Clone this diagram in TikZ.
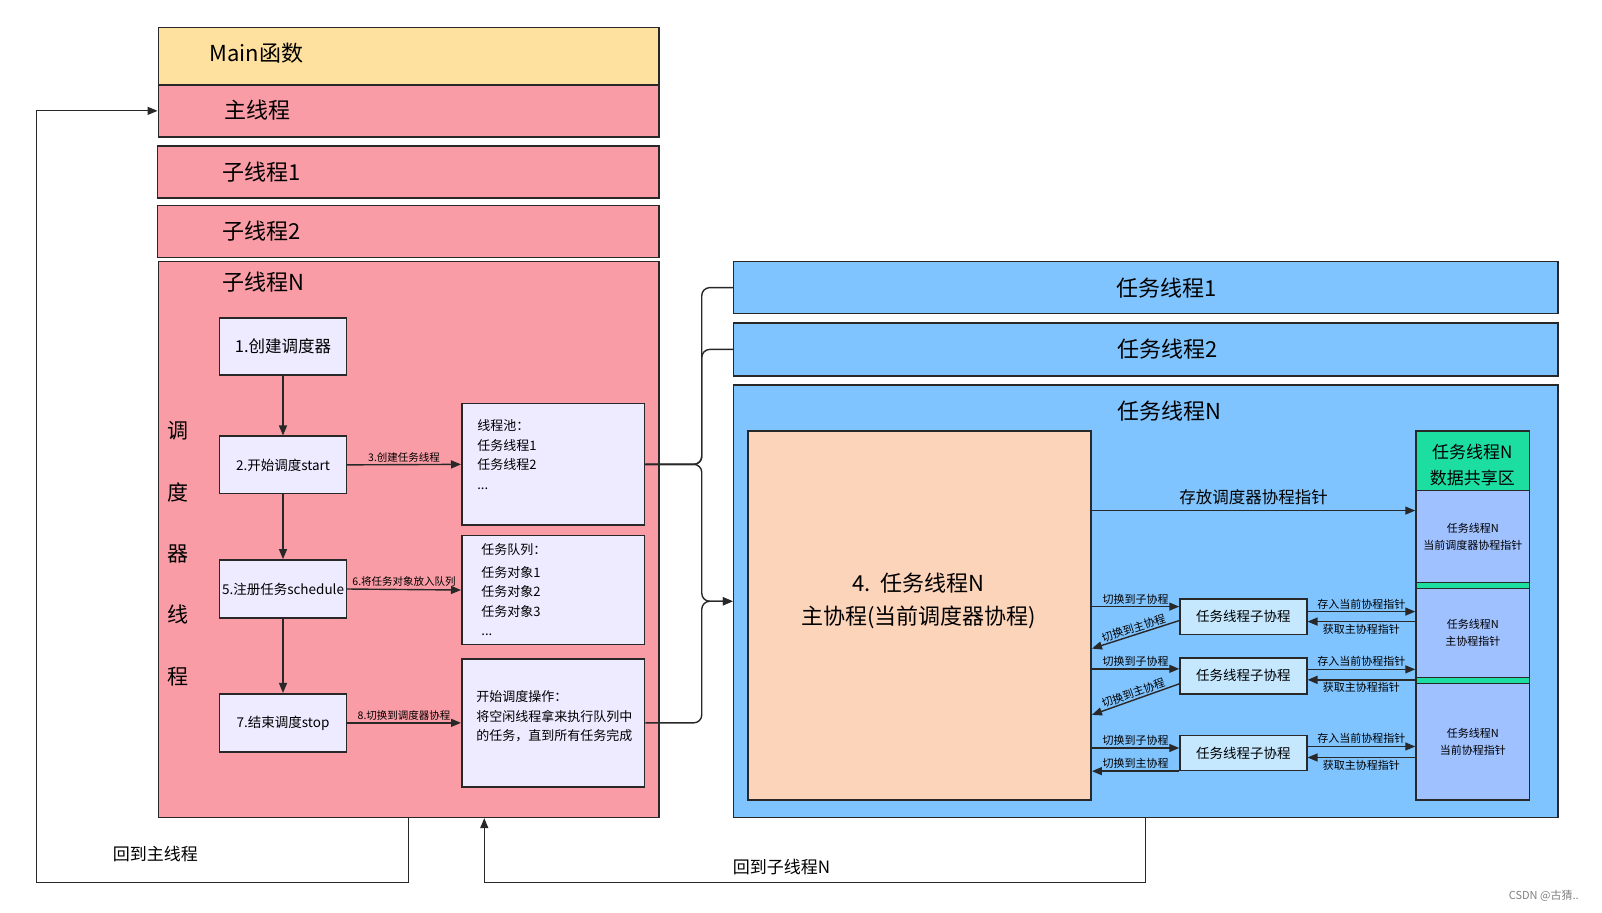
\documentclass[tikz,border=0pt]{standalone}
\usepackage{fontspec}
\setmainfont{Noto Sans CJK SC}
\usepackage{tikz}
\usetikzlibrary{fit}
\usetikzlibrary{arrows.meta}
\usepackage{xcolor}
\definecolor{ColMain}{RGB}{254,224,159}
\definecolor{ColThread}{RGB}{249,156,165}
\definecolor{ColStep}{RGB}{238,234,255}
\definecolor{ColTask}{RGB}{128,196,255}
\definecolor{ColCo}{RGB}{252,212,186}
\definecolor{ColShare}{RGB}{27,222,160}
\definecolor{ColCell}{RGB}{160,193,255}
\definecolor{ColSub}{RGB}{197,232,255}
\definecolor{ColLine}{RGB}{40,40,40}
\tikzstyle{BoxBase}=[draw=ColLine,line width=1.6pt,inner sep=0pt]
\tikzstyle{BoxMain}=[BoxBase,fill=ColMain]
\tikzstyle{BoxThread}=[BoxBase,fill=ColThread]
\tikzstyle{BoxStep}=[BoxBase,fill=ColStep]
\tikzstyle{BoxTask}=[BoxBase,fill=ColTask]
\tikzstyle{BoxCo}=[BoxBase,fill=ColCo]
\tikzstyle{BoxShare}=[BoxBase,fill=ColShare]
\tikzstyle{BoxCell}=[BoxBase,fill=ColCell]
\tikzstyle{BoxSub}=[BoxBase,fill=ColSub]
\tikzstyle{TextBig}=[inner sep=1pt,font=\fontsize{22}{26}\selectfont]
\tikzstyle{TextMid}=[inner sep=2pt,font=\fontsize{16.5}{20}\selectfont]
\tikzstyle{TextStep}=[inner sep=1pt,font=\fontsize{13.5}{19.5}\selectfont]
\tikzstyle{TextSmall}=[inner sep=2pt,font=\fontsize{11}{17}\selectfont]
\tikzstyle{TextTiny}=[inner sep=2pt,font=\fontsize{10.5}{13}\selectfont]
\tikzstyle{Link}=[draw=ColLine,line width=1.4pt]
\tikzstyle{LinkArrow}=[Link,-{Triangle[length=10pt,width=8pt]}]
\tikzstyle{LinkBack}=[Link,{Triangle[length=10pt,width=8pt]}-]

\begin{document}
\begin{tikzpicture}[x=1.0217pt,y=-1.0217pt]
    \useasboundingbox (0,0) rectangle (1568,893);
    % threads of the process
    \node[BoxMain,fit={(155,27) (645,83)}](mainF){};
    \node[BoxThread,fit={(155,83) (645,134)}](mainT){};
    \node[BoxThread,fit={(154,143) (645,194)}](sub1){};
    \node[BoxThread,fit={(154,201) (645,252)}](sub2){};
    \node[BoxThread,fit={(155,256) (645,800)}](subN){};
    \node[TextBig,anchor=west](mainFTxt)at(204,52){Main函数};
    \node[TextBig,anchor=west](mainTTxt)at(219,108){主线程};
    \node[TextBig,anchor=west](sub1Txt)at(217,168){子线程1};
    \node[TextBig,anchor=west](sub2Txt)at(217,226){子线程2};
    \node[TextBig,anchor=west](subNTxt)at(217,276){子线程N};
    \node[TextBig,align=center,font=\fontsize{21}{61.3}\selectfont](schedTxt)at(174,542){调\\度\\器\\线\\程};
    % scheduler steps
    \node[BoxStep,fit={(215,311) (339,367)},label={[inner sep=0pt,font=\fontsize{16.5}{20}\selectfont]center:{1.创建调度器}}](s1){};
    \node[BoxStep,fit={(215,427) (339,483)},label={[TextStep]center:{2.开始调度start}}](s2){};
    \node[BoxStep,fit={(215,548) (339,605)},label={[TextStep]center:{5.注册任务schedule}}](s5){};
    \node[BoxStep,fit={(215,679) (339,736)},label={[TextStep]center:{7.结束调度stop}}](s7){};
    \node[BoxStep,fit={(452,395) (631,514)}](pool){};
    \node[BoxStep,fit={(452,524) (631,631)}](queue){};
    \node[BoxStep,fit={(452,645) (631,770)}](run){};
    \node[TextStep,anchor=west,align=left,font=\fontsize{13}{19.4}\selectfont](poolTxt)at(466,445){线程池：\\任务线程1\\任务线程2\\...};
    \node[TextStep,anchor=west,align=left,font=\fontsize{13}{19.4}\selectfont](queueTxt)at(470,577){任务队列：\\[4pt]任务对象1\\任务对象2\\任务对象3\\...};
    \node[TextStep,anchor=west,align=left,font=\fontsize{13}{19.8}\selectfont](runTxt)at(465,701){开始调度操作：\\将空闲线程拿来执行队列中\\的任务，直到所有任务完成};
    \draw[LinkArrow](s1)--(s2);
    \draw[LinkArrow](s2)--(s5);
    \draw[LinkArrow](s5)--(s7);
    \draw[LinkArrow](s2.east)--node[TextTiny,above]{3.创建任务线程}(pool.west);
    \draw[LinkArrow](s5.east)--node[TextTiny,above]{6.将任务对象放入队列}(queue.west);
    \draw[LinkArrow](s7.east)--node[TextTiny,above]{8.切换到调度器协程}(run.west);
    % task threads
    \node[BoxTask,fit={(718,256) (1525,307)}](t1){};
    \node[BoxTask,fit={(718,316) (1525,368)}](t2){};
    \node[BoxTask,fit={(718,377) (1525,800)}](taskN){};
    \node[TextBig](t1Txt)at(1142,282){任务线程1};
    \node[TextBig](t2Txt)at(1143,342){任务线程2};
    \node[TextBig](taskNTxt)at(1145,402){任务线程N};
    \node[BoxCo,fit={(732,422) (1068,783)}](co){};
    \node[TextBig,align=center,font=\fontsize{22}{33.7}\selectfont](coTxt)at(899,588){4.\ \ 任务线程N\\主协程(当前调度器协程)};
    \node[BoxShare,fit={(1386,422) (1497,783)}](share){};
    \node[TextMid,align=center,font=\fontsize{17}{25.5}\selectfont](shareTxt)at(1441,455){任务线程N\\数据共享区};
    \node[BoxCell,fit={(1386,480) (1497,570)},label={[TextSmall,align=center]center:{任务线程N\\当前调度器协程指针}}](cell1){};
    \node[BoxCell,fit={(1386,576) (1497,663)},label={[TextSmall,align=center]center:{任务线程N\\主协程指针}}](cell2){};
    \node[BoxCell,fit={(1386,669) (1497,783)},label={[TextSmall,align=center]center:{任务线程N\\当前协程指针}}](cell3){};
    \node[BoxSub,fit={(1155,586) (1279,621)},label={[TextStep]center:{任务线程子协程}}](sb1){};
    \node[BoxSub,fit={(1155,644) (1279,679)},label={[TextStep]center:{任务线程子协程}}](sb2){};
    \node[BoxSub,fit={(1155,720) (1279,754)},label={[TextStep]center:{任务线程子协程}}](sb3){};
    \draw[LinkArrow]([yshift=105pt]co.east)--node[TextMid,above=3pt]{存放调度器协程指针}([yshift=105pt]co.east-|share.west);
    % switching between coroutines
    \draw[LinkArrow]([yshift=10pt]sb1.west-|co.east)--node[TextSmall,above]{切换到子协程}([yshift=10pt]sb1.west);
    \draw[LinkBack]([yshift=-32pt]sb1.west-|co.east)--node[TextSmall,above,sloped,inner sep=1pt]{切换到主协程}([yshift=-4pt]sb1.west);
    \draw[LinkArrow]([yshift=7pt]sb2.west-|co.east)--node[TextSmall,above]{切换到子协程}([yshift=7pt]sb2.west);
    \draw[LinkBack]([yshift=-39pt]sb2.west-|co.east)--node[TextSmall,above,sloped,inner sep=1pt]{切换到主协程}([yshift=-8pt]sb2.west);
    \draw[LinkArrow]([yshift=5pt]sb3.west-|co.east)--node[TextSmall,above]{切换到子协程}([yshift=5pt]sb3.west);
    \draw[LinkBack](sb3.south west-|co.east)--node[TextSmall,above]{切换到主协程}(sb3.south west);
    \draw[LinkArrow]([yshift=5pt]sb1.east)--node[TextSmall,above]{存入当前协程指针}([yshift=5pt]sb1.east-|share.west);
    \draw[LinkBack]([yshift=-5pt]sb1.east)--node[TextSmall,below]{获取主协程指针}([yshift=-5pt]sb1.east-|share.west);
    \draw[LinkArrow]([yshift=6.5pt]sb2.east)--node[TextSmall,above]{存入当前协程指针}([yshift=6.5pt]sb2.east-|share.west);
    \draw[LinkBack]([yshift=-4pt]sb2.east)--node[TextSmall,below]{获取主协程指针}([yshift=-4pt]sb2.east-|share.west);
    \draw[LinkArrow]([yshift=6.5pt]sb3.east)--node[TextSmall,above]{存入当前协程指针}([yshift=6.5pt]sb3.east-|share.west);
    \draw[LinkBack]([yshift=-4.5pt]sb3.east)--node[TextSmall,below]{获取主协程指针}([yshift=-4.5pt]sb3.east-|share.west);
    % from the scheduler to the task threads
    \draw[Link,rounded corners=8pt](pool.east)-|([xshift=-31pt]t1.west)--(t1.west);
    \draw[Link,rounded corners=8pt](pool.east)-|([xshift=-31pt]t2.west)--(t2.west);
    \draw[LinkArrow,rounded corners=8pt](pool.east)-|([xshift=-31pt]taskN.west)--(taskN.west);
    \draw[LinkArrow,rounded corners=8pt](run.east)-|([xshift=-31pt]taskN.west)--(taskN.west);
    % back to the threads
    \coordinate(backMain)at(36,864);
    \coordinate(backSub)at(474,864);
    \draw[LinkArrow,line width=1.2pt](subN.south)|-(backMain)|-(mainT.west);
    \draw[LinkArrow,line width=1.2pt](taskN.south)|-(backSub)--(backSub|-subN.south);
    \node[TextMid,font=\fontsize{17}{20}\selectfont](backMainTxt)at(152,836){回到主线程};
    \node[TextMid,font=\fontsize{17}{20}\selectfont](backSubTxt)at(765,849){回到子线程N};
    \node[TextSmall,text=gray](mark)at(1511,877){CSDN @古猜..};
\end{tikzpicture}
\end{document}
